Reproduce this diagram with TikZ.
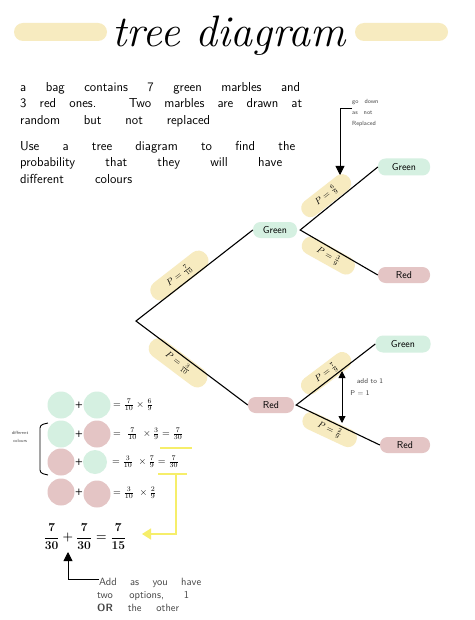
\documentclass[tikz,border=0pt]{standalone}
\usetikzlibrary{arrows.meta,calc}
\definecolor{pillc}{HTML}{F7EBC0}
\definecolor{gfill}{HTML}{D5F0E1}
\definecolor{rfill}{HTML}{E4C5C5}
\definecolor{yline}{HTML}{F6EE6A}
\definecolor{annot}{HTML}{454545}
\begin{document}
\begin{tikzpicture}[x=1pt,y=-1pt,
  tline/.style={line width=1.1pt,black},
  bigpill/.style={fill=pillc,rounded corners=9.5pt,minimum width=68pt,minimum height=20pt,inner sep=1pt,font=\sffamily\small,sloped},
  smallpill/.style={fill=pillc,rounded corners=8.5pt,minimum width=58pt,minimum height=18pt,inner sep=1pt,font=\sffamily\small,sloped},
  gnode/.style={fill=gfill,rounded corners=7.5pt,minimum height=16pt,inner sep=1pt,font=\sffamily\fontsize{10}{12}\selectfont},
  rnode/.style={fill=rfill,rounded corners=7.5pt,minimum height=16pt,inner sep=1pt,font=\sffamily\fontsize{10}{12}\selectfont},
  titlepill/.style={fill=pillc,rounded corners=9pt,minimum width=93pt,minimum height=18pt,inner sep=0pt},
  body/.style={font=\sffamily\fontsize{13}{15}\selectfont,anchor=base west,inner sep=0pt},
  gcirc/.style={circle,fill=gfill,minimum size=27pt,inner sep=0pt},
  rcirc/.style={circle,fill=rfill,minimum size=27pt,inner sep=0pt},
  plus/.style={font=\sffamily\bfseries\small,inner sep=0pt},
  eqn/.style={font=\normalsize,anchor=west,inner sep=0pt},
  blackarrow/.style={line width=0.9pt,-{Triangle[length=9pt,width=9pt]}},
  yarrow/.style={draw=yline,line width=1.3pt,-{Triangle[length=9pt,width=11pt]}},
  annotxt/.style={text=annot,inner sep=0pt}
]
\useasboundingbox[fill=white] (0,0) rectangle (474,620);

% title
\node[titlepill] (tpl) at (60.5,32) {};
\node[titlepill] (tpr) at (401.5,32) {};
\node[anchor=base,inner sep=0pt,font=\fontsize{44}{46}\selectfont\itshape] (title) at (229,47) {tree diagram};

% problem text
\node[body] (l1) at (20,92) {\makebox[280pt][s]{a bag contains 7 green marbles and}};
\node[body] (l2) at (20,108) {\makebox[282pt][s]{3 red ones. Two marbles are drawn at}};
\node[body] (l3) at (20,125) {\makebox[190pt][s]{random but not replaced}};
\node[body] (l4) at (20,151) {\makebox[275pt][s]{Use a tree diagram to find the}};
\node[body] (l5) at (20,167) {\makebox[262pt][s]{probability that they will have}};
\node[body] (l6) at (20,184) {\makebox[112pt][s]{different colours}};

% tree nodes
\coordinate (root) at (136,321);
\node[gnode,minimum width=44pt] (G1) at (275,230) {Green};
\node[rnode,minimum width=46pt] (R1) at (271,405) {Red};
\node[gnode,minimum width=52pt,minimum height=17pt] (G2) at (404,167) {Green};
\node[rnode,minimum width=52pt] (R2) at (404,275) {Red};
\node[gnode,minimum width=55pt,minimum height=17pt] (G3) at (403,344) {Green};
\node[rnode,minimum width=50pt] (R3) at (405,445) {Red};

% probability pills
\path (root) -- node[bigpill,pos=.42,above=-1pt] (p1) {$P=\frac{7}{10}$} (G1.west);
\path (root) -- node[bigpill,pos=.42,below=-2pt] (p2) {$P=\frac{3}{10}$} (R1.west);
\path (G1.east) -- node[smallpill,pos=.43,above=0pt] (p3) {$P=\frac{6}{9}$} (G2.west);
\path (G1.east) -- node[smallpill,pos=.43,below=-2pt] (p4) {$P=\frac{3}{9}$} (R2.west);
\path (R1.east) -- node[smallpill,pos=.44,above=-3pt] (p5) {$P=\frac{7}{9}$} (G3.west);
\path (R1.east) -- node[smallpill,pos=.45,below=-2pt] (p6) {$P=\frac{2}{9}$} (R3.west);

% branches
\draw[tline] (G1.west) -- (root) -- (R1.west);
\draw[tline] (G2.west) -- ([xshift=3pt]G1.east) -- (R2.west);
\draw[tline] (G3.west) -- ([xshift=2pt]R1.east) -- (R3.west);

% go down annotation
\node[annotxt,anchor=north west,align=left,font=\sffamily\fontsize{6}{11}\selectfont] (godown) at (352,99) {go\quad down\\as\quad not\\Replaced};
\coordinate (gdtip) at (340,175);
\draw[blackarrow] ([yshift=4pt]godown.west) -| (gdtip);

% add to 1 annotation
\coordinate (a1top) at (342,371);
\coordinate (a1bot) at (342,423);
\draw[line width=0.9pt,{Triangle[length=7pt,width=7pt]}-{Triangle[length=7pt,width=7pt]}] (a1top) -- (a1bot);
\node[annotxt,font=\sffamily\fontsize{7}{8}\selectfont] (add1) at (370,381) {add to 1};
\node[annotxt,font=\sffamily\fontsize{7}{8}\selectfont] (add2) at (360,393) {P = 1};

% circles rows
\node[gcirc] (c11) at (61,405) {};
\node[plus] (pl1) at (79,405) {+};
\node[gcirc] (c12) at (97,405) {};
\node[eqn] (e1) at (113,405) {$=\frac{7}{10}\times\frac{6}{9}$};

\node[gcirc] (c21) at (61,434) {};
\node[plus] (pl2) at (79,434) {+};
\node[rcirc] (c22) at (97,434) {};
\node[eqn] (e2) at (113,434) {$=\ \frac{7}{10}\ \times\frac{3}{9}=\frac{7}{30}$};

\node[rcirc] (c31) at (61,462) {};
\node[plus] (pl3) at (79,462) {+};
\node[gcirc,minimum size=24pt] (c32) at (95,462) {};
\node[eqn] (e3) at (112,462) {$=\frac{3}{10}\ \times\frac{7}{9}=\frac{7}{30}$};

\node[rcirc] (c41) at (61,492) {};
\node[plus] (pl4) at (79,492) {+};
\node[rcirc] (c42) at (97,494) {};
\node[eqn] (e4) at (113,493) {$=\frac{3}{10}\ \times\frac{2}{9}$};

% bracket and label
\draw[line width=0.9pt,rounded corners=3pt] (48,423) -- (40,425) -- (40,473) -- (48,475);
\node[annotxt,align=center,font=\sffamily\fontsize{4.5}{8}\selectfont] (diff) at (20,437) {different\\colours};

% yellow underlines and arrow
\coordinate (u2a) at (160,448);
\coordinate (u2b) at (192,448);
\coordinate (u3a) at (158,474);
\coordinate (u3b) at (187,474);
\coordinate (u3m) at (176,474);
\draw[draw=yline,line width=1.3pt] (u2a) -- (u2b);
\draw[draw=yline,line width=1.3pt] (u3a) -- (u3b);

% final equation
\node[inner sep=0pt,font=\fontsize{12.5}{14}\selectfont\boldmath] (eq) at (85,537) {$\displaystyle\frac{7}{30}+\frac{7}{30}=\frac{7}{15}$};
\coordinate (ytip) at (142,534);
\draw[yarrow] (u3m) |- (ytip);

% add annotation
\node[annotxt,anchor=base west,font=\sffamily\fontsize{10.5}{12}\selectfont] (addA) at (99,585) {\makebox[102pt][s]{Add as you have}};
\node[annotxt,anchor=base west,font=\sffamily\fontsize{10.5}{12}\selectfont] (addB) at (97,598) {\makebox[92pt][s]{two options, 1}};
\node[annotxt,anchor=base west,font=\sffamily\fontsize{10.5}{12}\selectfont] (addC) at (97,611) {\makebox[82pt][s]{\textbf{OR} the other}};
\coordinate (eqtip) at (68,552);
\draw[blackarrow] ([yshift=3pt]addA.west) -| (eqtip);
\end{tikzpicture}
\end{document}
